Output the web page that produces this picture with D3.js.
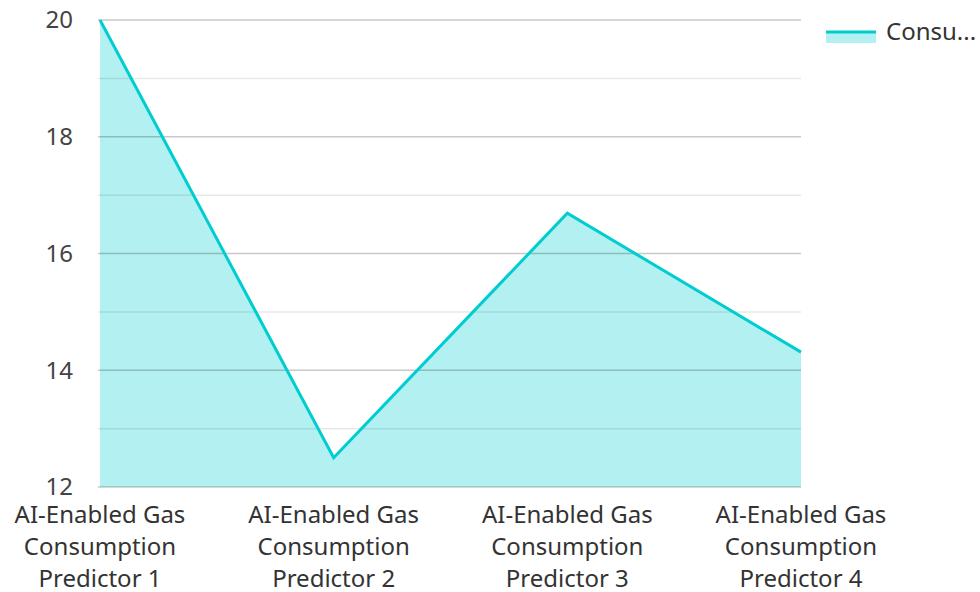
<!DOCTYPE html>
<html>
<head>
<meta charset="utf-8">
<script src="https://cdn.jsdelivr.net/npm/d3@7"></script>
<style>
  body { margin: 0; background: #fff; }
  text { font-family: "Noto Sans", "Open Sans", sans-serif; }
</style>
</head>
<body>
<svg id="chart" width="980" height="592"></svg>
<script>
const categories = [
  'AI-Enabled Gas Consumption Predictor 1',
  'AI-Enabled Gas Consumption Predictor 2',
  'AI-Enabled Gas Consumption Predictor 3',
  'AI-Enabled Gas Consumption Predictor 4',
];
const values = [20, 12.5, 16.69, 14.31];
const seriesName = 'Consu...';
const majorTicks = [12, 14, 16, 18, 20];
const minorTicks = [13, 15, 17, 19];

const color = '#00cdd0';
const svg = d3.select('#chart');
const plot = { left: 100, right: 801, top: 20, bottom: 487 };

const x = d3.scalePoint().domain(categories).range([plot.left, plot.right]);
const y = d3.scaleLinear().domain([12, 20]).range([plot.bottom, plot.top]);

const data = categories.map((c, i) => ({ c, v: values[i] }));

// area fill
svg.append('path')
  .datum(data)
  .attr('d', d3.area().x(d => x(d.c)).y0(y(12)).y1(d => y(d.v)))
  .attr('fill', color)
  .attr('fill-opacity', 0.3);

// grid on top of fill
svg.append('g')
  .selectAll('line')
  .data(minorTicks)
  .enter()
  .append('line')
  .attr('x1', plot.left - 2).attr('x2', plot.right)
  .attr('y1', d => y(d)).attr('y2', d => y(d))
  .attr('stroke', 'rgba(0,0,0,0.09)')
  .attr('stroke-width', 1.5);

svg.append('g')
  .selectAll('line')
  .data(majorTicks)
  .enter()
  .append('line')
  .attr('x1', plot.left - 2).attr('x2', plot.right)
  .attr('y1', d => y(d)).attr('y2', d => y(d))
  .attr('stroke', 'rgba(0,0,0,0.21)')
  .attr('stroke-width', 1.5);

// line
svg.append('path')
  .datum(data)
  .attr('d', d3.line().x(d => x(d.c)).y(d => y(d.v)))
  .attr('fill', 'none')
  .attr('stroke', color)
  .attr('stroke-width', 3);

// y labels
svg.append('g')
  .selectAll('text')
  .data(majorTicks)
  .enter()
  .append('text')
  .attr('x', 73)
  .attr('y', d => y(d))
  .attr('dy', '0.35em')
  .attr('text-anchor', 'end')
  .attr('font-size', 24)
  .attr('fill', '#444')
  .text(d => d);

// x labels, wrapped into three lines
const wrap = s => {
  const m = s.match(/^(.*Gas) (Consumption) (.*)$/);
  return m ? [m[1], m[2], m[3]] : [s];
};
svg.append('g')
  .selectAll('text')
  .data(categories)
  .enter()
  .append('text')
  .attr('text-anchor', 'middle')
  .attr('font-size', 24)
  .attr('fill', '#333')
  .each(function(d) {
    d3.select(this).selectAll('tspan')
      .data(wrap(d))
      .enter()
      .append('tspan')
      .attr('x', x(d))
      .attr('y', (t, i) => 523 + i * 32)
      .text(t => t);
  });

// legend
const lg = svg.append('g');
lg.append('rect')
  .attr('x', 826).attr('y', 31).attr('width', 50).attr('height', 12)
  .attr('fill', color).attr('fill-opacity', 0.3);
lg.append('line')
  .attr('x1', 826).attr('x2', 876).attr('y1', 32).attr('y2', 32)
  .attr('stroke', color).attr('stroke-width', 3);
lg.append('text')
  .attr('x', 886).attr('y', 32).attr('dy', '0.35em')
  .attr('font-size', 24).attr('fill', '#333')
  .text(seriesName);
</script>
</body>
</html>
